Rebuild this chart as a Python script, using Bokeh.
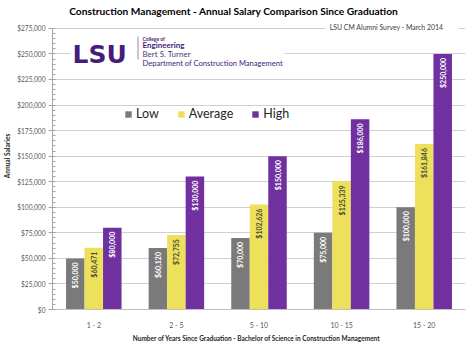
import math
from bokeh.plotting import figure
from bokeh.models import (ColumnDataSource, FactorRange, Range1d, NumeralTickFormatter, Legend,
                          LegendItem, Label, BoxAnnotation, FixedTicker)
from bokeh.transform import dodge
from bokeh.core.properties import value
from bokeh.embed import file_html
from bokeh.resources import INLINE

# ---------------- data ----------------
categories = ["1 - 2", "2 - 5", "5 - 10", "10 - 15", "15 - 20"]
low = [50000, 60120, 70000, 75000, 100000]
average = [60471, 72755, 102626, 125339, 161846]
high = [80000, 130000, 150000, 186000, 250000]
series_names = ["Low", "Average", "High"]
y_ticks = list(range(0, 275001, 25000))
y_minor_ticks = list(range(0, 275001, 5000))
y_max = 275000

title_text = "Construction  Management  - Annual Salary Comparison  Since Graduation"
x_title = "Number of Years Since Graduation  - Bachelor  of Science  in Construction Management"
y_title = "Annual Salaries"
survey_text = "LSU CM Alumni Survey - March 2014"

# ---------------- style ----------------
FONT = "Lato"
colors = ["#7a7a7a", "#ede05a", "#7030a0"]
label_colors = ["#ffffff", "#4a4a3a", "#ffffff"]
LSU_PURPLE = "#461d7c"
BAR_W = 0.224

# frame spans from 2px to 311px; the 275k line sits at 28px
FRAME_TOP, AXIS_TOP, FRAME_BOTTOM = 2, 28, 311
y_end = y_max * (FRAME_BOTTOM - FRAME_TOP) / (FRAME_BOTTOM - AXIS_TOP)

p = figure(width=474, height=344,
           x_range=FactorRange(*categories), y_range=Range1d(0, y_end),
           output_backend="svg", toolbar_location=None,
           min_border_left=52, min_border_right=9, min_border_top=FRAME_TOP,
           min_border_bottom=344 - FRAME_BOTTOM)
p.outline_line_color = None
p.background_fill_color = "white"
p.border_fill_color = "white"

offsets = [-BAR_W, 0.0, BAR_W]
src = ColumnDataSource(dict(cat=categories, Low=low, Average=average, High=high,
                            Low_t=[f"${v:,}" for v in low],
                            Average_t=[f"${v:,}" for v in average],
                            High_t=[f"${v:,}" for v in high]))

renderers = []
for name, off, col, lcol in zip(series_names, offsets, colors, label_colors):
    r = p.vbar(x=dodge("cat", off, range=p.x_range), top=name, width=BAR_W, source=src,
               fill_color=col, line_color=None)
    renderers.append(r)
    p.text(x=dodge("cat", off, range=p.x_range), y=name, text=name + "_t", source=src,
           angle=math.pi / 2, text_align="right", text_baseline="middle", y_offset=4,
           text_font=value(FONT), text_font_style="bold", text_font_size="7px",
           text_color=lcol)

# axes
p.yaxis.bounds = (0, y_max)
p.yaxis.ticker = FixedTicker(ticks=y_ticks, minor_ticks=y_minor_ticks)
p.yaxis.formatter = NumeralTickFormatter(format="$0,0")
p.yaxis.major_label_text_font = FONT
p.yaxis.major_label_text_font_size = "6.6px"
p.yaxis.major_label_text_color = "#595959"
p.yaxis.axis_line_color = "#a6a6a6"
p.yaxis.major_tick_line_color = "#a6a6a6"
p.yaxis.minor_tick_line_color = "#a6a6a6"
p.yaxis.major_tick_in = 0
p.yaxis.major_tick_out = 4
p.yaxis.minor_tick_in = 3
p.yaxis.minor_tick_out = 0
p.yaxis.major_label_standoff = 3
p.yaxis.axis_label = y_title
p.yaxis.axis_label_text_font = FONT
p.yaxis.axis_label_text_font_size = "6.6px"
p.yaxis.axis_label_text_font_style = "bold"
p.yaxis.axis_label_text_color = "#262626"
p.yaxis.axis_label_standoff = 3

p.xaxis.major_label_text_font = FONT
p.xaxis.major_label_text_font_size = "7px"
p.xaxis.major_label_text_color = "#595959"
p.xaxis.axis_line_color = "#bfbfbf"
p.xaxis.major_tick_line_color = None
p.xaxis.minor_tick_line_color = None
p.xaxis.major_label_standoff = 5
p.xaxis.axis_label = x_title
p.xaxis.axis_label_text_font = FONT
p.xaxis.axis_label_text_font_size = "6.5px"
p.xaxis.axis_label_text_font_style = "bold"
p.xaxis.axis_label_text_color = "#262626"
p.xaxis.axis_label_standoff = 3

p.xgrid.grid_line_color = None
p.ygrid.grid_line_color = "#d0d0d0"

# legend
legend = Legend(items=[LegendItem(label=n, renderers=[r]) for n, r in zip(series_names, renderers)],
                orientation="horizontal", location=(72, 188), padding=0, margin=0,
                spacing=18, label_standoff=4, glyph_width=8, glyph_height=8,
                label_height=12, label_width=10,
                label_text_font=FONT, label_text_font_size="12.5px", label_text_color="#262626",
                border_line_alpha=0, background_fill_alpha=0)
p.add_layout(legend)

def screen_label(x, y, text, size, color, style="normal", align="left", font=FONT):
    p.add_layout(Label(x=x, y=y, x_units="screen", y_units="screen", text=text,
                       text_align=align, text_baseline="middle", text_font=font,
                       text_font_style=style, text_font_size=size, text_color=color))

def screen_box(left, right, bottom, top, color):
    p.add_layout(BoxAnnotation(left=left, right=right, bottom=bottom, top=top,
                               left_units="screen", right_units="screen",
                               bottom_units="screen", top_units="screen",
                               fill_color=color, fill_alpha=1, line_color=None))

# title (screen coords relative to frame: x from frame left, y from frame bottom)
screen_label(185, 299, title_text, "10.2px", "#000000", style="bold", align="center")

# survey note with white backing
screen_box(273, 406, 278, 288, "white")
screen_label(334, 283, survey_text, "6.9px", "#404040", align="center")

# logo block
screen_box(18, 232, 241, 275, "white")
screen_label(20, 255, "LSU", "25px", LSU_PURPLE, style="bold", font="DejaVu Sans")
screen_box(85, 86, 250, 273, "#9a8cb0")
screen_label(90, 271, "College of", "5px", LSU_PURPLE, style="bold")
screen_label(90, 265, "Engineering", "8px", LSU_PURPLE, style="bold")
screen_label(90, 256, "Bert S. Turner", "8px", "#4b3a6e")
screen_label(90, 247, "Department of Construction Management", "7.6px", LSU_PURPLE)

open("out.html", "w").write(file_html(p, INLINE))
